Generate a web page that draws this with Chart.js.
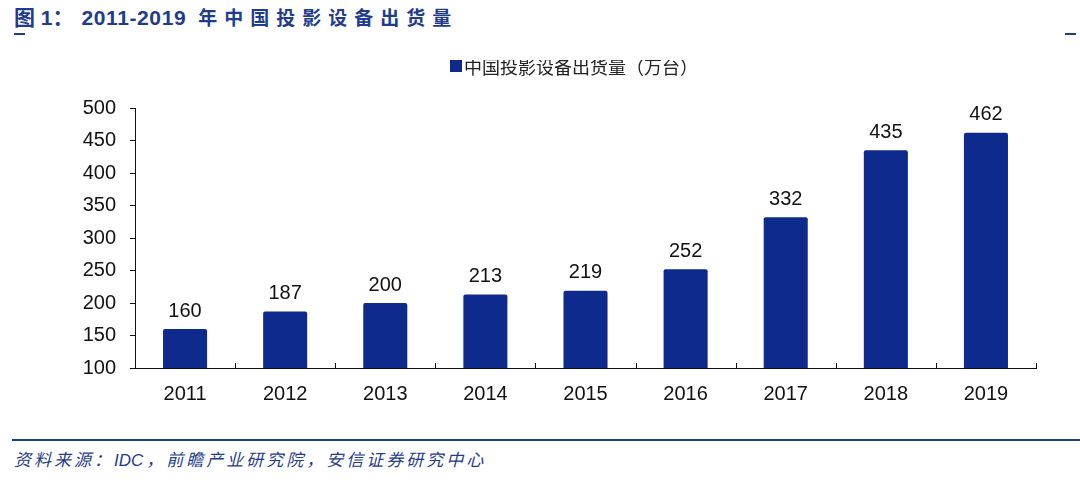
<!DOCTYPE html>
<html>
<head>
<meta charset="utf-8">
<script src="https://cdn.jsdelivr.net/npm/chart.js@4.4.0/dist/chart.umd.min.js"></script>
<style>
  body { margin: 0; width: 1080px; height: 486px; background: #fff; position: relative; overflow: hidden; font-family: "Liberation Sans", Arial, sans-serif; }
  .title { position: absolute; left: 14px; top: 1px; font-size: 21px; font-weight: bold; color: #1f3d8c; font-family: "Liberation Sans", "Noto Sans CJK SC", sans-serif; white-space: nowrap; }
  .title .cn { font-family: "Noto Sans CJK SC", sans-serif; font-size: 19px; letter-spacing: 7px; margin-left: 12px; }
  .title .num { margin-left: 8px; letter-spacing: 0.6px; }
  .dash { position: absolute; height: 2px; width: 11px; background: #1f3d8c; top: 33px; }
  .rule { position: absolute; left: 12px; right: 0; top: 439px; height: 2px; background: #1f3d8c; }
  .source { position: absolute; left: 14px; top: 446px; font-size: 17px; font-style: italic; color: #1f3d8c; font-family: "Noto Sans CJK SC", "Liberation Sans", sans-serif; letter-spacing: 3px; white-space: nowrap; }
  .source .lat { letter-spacing: 0; font-family: "Liberation Sans", Arial, sans-serif; margin-right: 3px; }
  .wrap { position: absolute; left: 0; top: 60px; width: 1080px; height: 352px; }
</style>
</head>
<body>
<div class="title">图 1：<span class="num">2011-2019</span><span class="cn">年中国投影设备出货量</span></div>
<div class="dash" style="left:14px"></div>
<div class="dash" style="left:1065px"></div>
<div class="wrap"><canvas id="myChart"></canvas></div>
<div class="rule"></div>
<div class="source">资料来源：<span class="lat">IDC</span>，前瞻产业研究院，安信证券研究中心</div>
<script>
  let years = ["2011", "2012", "2013", "2014", "2015", "2016", "2017", "2018", "2019"];
  let shipments = [160, 187, 200, 213, 219, 252, 332, 435, 462];
  let seriesName = "中国投影设备出货量（万台）";
  let barColor = "#0d2a8c";

  // value labels above bars
  let valueLabels = {
    id: "valueLabels",
    afterDatasetsDraw(chart) {
      let ctx = chart.ctx;
      let meta = chart.getDatasetMeta(0);
      ctx.save();
      ctx.fillStyle = "#111";
      ctx.font = "20px 'Liberation Sans', Arial, sans-serif";
      ctx.textAlign = "center";
      ctx.textBaseline = "bottom";
      meta.data.forEach(function (bar, i) {
        ctx.fillText(shipments[i], bar.x, bar.y - 8);
      });
      ctx.restore();
    }
  };

  // legend: square followed right away by the text
  let topLegend = {
    id: "topLegend",
    afterDraw(chart) {
      let ctx = chart.ctx;
      let ds = chart.data.datasets[0];
      ctx.save();
      ctx.font = "18px 'Noto Sans CJK SC', sans-serif";
      let tw = ctx.measureText(ds.label).width;
      let total = 14 + tw;
      let x0 = chart.width / 2 + 34 - total / 2;
      let yc = 6;
      ctx.fillStyle = ds.backgroundColor;
      ctx.fillRect(x0, yc - 6, 12, 12);
      ctx.fillStyle = "#222";
      ctx.textBaseline = "middle";
      ctx.textAlign = "left";
      ctx.fillText(ds.label, x0 + 14, yc + 1);
      ctx.restore();
    }
  };

  // small inward ticks on the x axis between categories
  let xTicks = {
    id: "xTicks",
    afterDraw(chart) {
      let ctx = chart.ctx;
      let x = chart.scales.x;
      let y0 = chart.scales.y.bottom;
      ctx.save();
      ctx.strokeStyle = "#111";
      ctx.lineWidth = 1;
      let step = (x.right - x.left) / years.length;
      for (let i = 1; i <= years.length; i++) {
        let px = Math.round(x.left + step * i) + 0.5;
        ctx.beginPath();
        ctx.moveTo(px, y0);
        ctx.lineTo(px, y0 - 5);
        ctx.stroke();
      }
      ctx.restore();
    }
  };

  new Chart("myChart", {
    type: "bar",
    data: {
      labels: years,
      datasets: [{
        label: seriesName,
        data: shipments,
        backgroundColor: barColor,
        borderRadius: 2,
        borderSkipped: "bottom",
        barPercentage: 0.44,
        categoryPercentage: 1
      }]
    },
    options: {
      responsive: true,
      maintainAspectRatio: false,
      animation: false,
      layout: { padding: { left: 0, right: 44, top: 48, bottom: 0 } },
      plugins: {
        tooltip: { enabled: false },
        legend: { display: false }
      },
      scales: {
        x: {
          grid: { display: false },
          border: { display: true, color: "#111", width: 1 },
          ticks: {
            color: "#111",
            padding: 6,
            font: { size: 20, family: "'Liberation Sans', Arial, sans-serif" }
          }
        },
        y: {
          min: 100,
          max: 500,
          afterFit(scale) { scale.width = 135; },
          grid: { drawOnChartArea: false, drawTicks: true, tickLength: 5, color: "#111" },
          border: { display: true, color: "#111", width: 1 },
          ticks: {
            stepSize: 50,
            color: "#111",
            padding: 14,
            font: { size: 20, family: "'Liberation Sans', Arial, sans-serif" }
          }
        }
      }
    },
    plugins: [valueLabels, topLegend, xTicks]
  });
</script>
</body>
</html>
